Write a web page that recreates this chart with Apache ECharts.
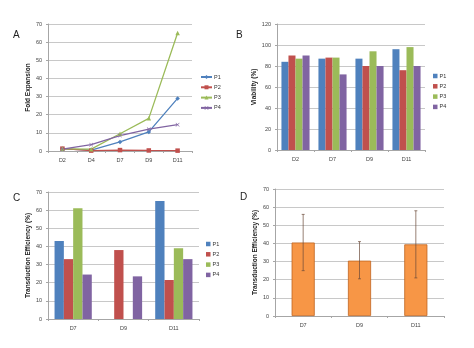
<!DOCTYPE html>
<html><head><meta charset="utf-8">
<script src="https://cdn.jsdelivr.net/npm/echarts@6/dist/echarts.min.js"></script>
<style>html,body{margin:0;padding:0;background:#fff}#c{width:474px;height:348px}</style>
</head><body><div id="c"></div>
<script>
// ---- data ----
const seriesNames = ['P1', 'P2', 'P3', 'P4'];
// Panel A: fold expansion
const catsA = ['D2', 'D4', 'D7', 'D9', 'D11'];
const aP1 = [1.2, 0.5, 5, 10.5, 29];
const aP2 = [1.3, 0.2, 0.5, 0.3, 0.2];
const aP3 = [1.2, 1.0, 9.5, 18, 65];
const aP4 = [1.0, 3.5, 8.5, 12, 14.5];
const ticksA = [0, 10, 20, 30, 40, 50, 60, 70];
// Panel B: viability
const catsB = ['D2', 'D7', 'D9', 'D11'];
const bP1 = [84, 87, 87, 96];
const bP2 = [90, 88, 80, 76];
const bP3 = [87, 88, 94, 98];
const bP4 = [90, 72, 80, 80];
const ticksB = [0, 20, 40, 60, 80, 100, 120];
// Panel C: transduction efficiency per patient
const catsC = ['D7', 'D9', 'D11'];
const cP1 = [43, null, 65];
const cP2 = [33, 38, 21.5];
const cP3 = [61, null, 39];
const cP4 = [24.5, 23.5, 33];
const ticksC = [0, 10, 20, 30, 40, 50, 60, 70];
// Panel D: mean transduction efficiency with error bars
const catsD = ['D7', 'D9', 'D11'];
const dMean = [40.5, 30.5, 39.5];
const dLow = [25, 20.5, 21];
const dHigh = [56, 41, 58];
const ticksD = [0, 10, 20, 30, 40, 50, 60, 70];

const colors = ['#4F81BD', '#C0504D', '#9BBB59', '#8064A2'];
const orange = '#F79646';
const FONT = '"Liberation Sans", Arial, sans-serif';
const tickColor = '#444';
const axisGrey = '#A6A6A6';

function yAx(gi, ticks, name, gap) {
  return {
    gridIndex: gi, type: 'value', min: ticks[0], max: ticks[ticks.length - 1],
    interval: ticks[1] - ticks[0],
    name: name, nameLocation: 'middle', nameGap: gap,
    nameTextStyle: { fontFamily: FONT, fontSize: 6.5, fontWeight: 'bold', color: '#222' },
    axisLine: { show: true, lineStyle: { color: axisGrey, width: 1 } },
    axisTick: { show: true, length: 2, lineStyle: { color: axisGrey } },
    axisLabel: { fontFamily: FONT, fontSize: 5.5, color: tickColor, margin: 6 },
    splitLine: { show: true, lineStyle: { color: '#C8C8C8', width: 1 } }
  };
}
function xAx(gi, cats) {
  return {
    gridIndex: gi, type: 'category', data: cats, boundaryGap: true,
    axisLine: { show: true, lineStyle: { color: axisGrey, width: 1 } },
    axisTick: { show: true, length: 2, alignWithLabel: false, lineStyle: { color: axisGrey } },
    axisLabel: { fontFamily: FONT, fontSize: 5.5, color: tickColor, margin: 6 },
    splitLine: { show: false }
  };
}
const xSym = 'path://M0,1L1,0L5,4L9,0L10,1L6,5L10,9L9,10L5,6L1,10L0,9L4,5Z';
const symbolsA = ['diamond', 'rect', 'triangle', xSym];
const dataA = [aP1, aP2, aP3, aP4];
const dataB = [bP1, bP2, bP3, bP4];
const dataC = [cP1, cP2, cP3, cP4];

const series = [];
dataA.forEach((d, i) => series.push({
  name: 'A:' + seriesNames[i], type: 'line', xAxisIndex: 0, yAxisIndex: 0, data: d,
  symbol: symbolsA[i], symbolSize: i === 3 ? 4 : 4.5, showSymbol: true,
  lineStyle: { color: colors[i], width: 1.3 }, itemStyle: { color: colors[i] }, animation: false
}));
dataB.forEach((d, i) => series.push({
  name: 'B:' + seriesNames[i], type: 'bar', xAxisIndex: 1, yAxisIndex: 1, data: d,
  barGap: '0%', barCategoryGap: '24%', itemStyle: { color: colors[i] }, animation: false
}));
dataC.forEach((d, i) => series.push({
  name: 'C:' + seriesNames[i], type: 'bar', xAxisIndex: 2, yAxisIndex: 2, data: d,
  barGap: '0%', barCategoryGap: '26%', itemStyle: { color: colors[i] }, animation: false
}));
series.push({
  name: 'D', type: 'bar', xAxisIndex: 3, yAxisIndex: 3, data: dMean, barWidth: '41%',
  itemStyle: { color: orange, borderColor: '#C0651F', borderWidth: 0.8 }, animation: false
});
series.push({
  name: 'Derr', type: 'custom', xAxisIndex: 3, yAxisIndex: 3,
  data: dLow.map((l, i) => [i, l, dHigh[i]]),
  encode: { x: 0, y: [1, 2] }, z: 10, animation: false,
  renderItem: function (params, api) {
    const x = api.coord([api.value(0), api.value(1)])[0];
    const yl = api.coord([api.value(0), api.value(1)])[1];
    const yh = api.coord([api.value(0), api.value(2)])[1];
    const st = { stroke: '#6b4a3a', lineWidth: 0.7 };
    return { type: 'group', children: [
      { type: 'line', shape: { x1: x, y1: yl, x2: x, y2: yh }, style: st },
      { type: 'line', shape: { x1: x - 1.5, y1: yl, x2: x + 1.5, y2: yl }, style: st },
      { type: 'line', shape: { x1: x - 1.5, y1: yh, x2: x + 1.5, y2: yh }, style: st }
    ] };
  }
});

function legend(prefix, left, top, isLine) {
  return {
    orient: 'vertical', left: left, top: top, itemGap: 4.3, padding: 0,
    itemWidth: isLine ? 11 : 4.5, itemHeight: isLine ? 5 : 4.5,
    data: seriesNames.map(n => prefix + n),
    formatter: n => n.split(':')[1],
    textStyle: { fontFamily: FONT, fontSize: 5.5, color: '#333', padding: [0, 0, 0, -3] },
    selectedMode: false, icon: isLine ? undefined : 'rect'
  };
}
const letter = (t, l, tp) => ({ text: t, left: l, top: tp, padding: 0, textStyle: { fontFamily: FONT, fontSize: 10, fontWeight: 'normal', color: '#222' } });

const option = {
  backgroundColor: '#fff',
  animation: false,
  title: [letter('A', 13, 30), letter('B', 236, 30), letter('C', 13, 193), letter('D', 240, 192)],
  legend: [legend('A:', 200, 74, true), legend('B:', 433, 73, false), legend('C:', 206, 241, false)],
  grid: [
    { left: 48, top: 24, width: 144, height: 127 },
    { left: 277, top: 24, width: 148, height: 126 },
    { left: 48, top: 192, width: 151, height: 127 },
    { left: 275, top: 189, width: 169, height: 127 }
  ],
  xAxis: [xAx(0, catsA), xAx(1, catsB), xAx(2, catsC), xAx(3, catsD)],
  yAxis: [
    yAx(0, ticksA, 'Fold Expansion', 16),
    yAx(1, ticksB, 'Viability (%)', 18),
    yAx(2, ticksC, 'Transduction Efficiency (%)', 16),
    yAx(3, ticksD, 'Transduction Efficiency (%)', 16)
  ],
  series: series
};
const chart = echarts.init(document.getElementById('c'), null, { renderer: 'canvas' });
chart.setOption(option);
</script></body></html>
